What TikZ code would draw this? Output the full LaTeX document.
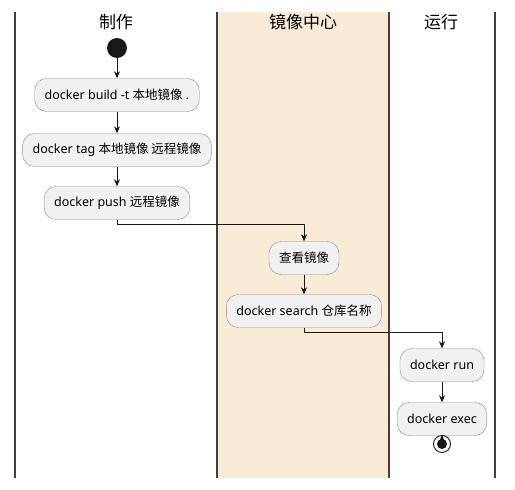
\documentclass[tikz,border=0pt]{standalone}
\usepackage{fontspec}
\setmainfont{Noto Sans}
\newfontfamily\cjk{Noto Sans CJK SC}
\usetikzlibrary{arrows.meta}
\definecolor{laneBg}{HTML}{FAEBD7}
\definecolor{actFill}{HTML}{F1F1F1}
\definecolor{lineCol}{HTML}{181818}

\begin{document}
\begin{tikzpicture}[x=1pt, y=-1pt, line join=round, >={Stealth[length=7pt,width=6pt]},
  act/.style={draw=black!45, fill=actFill, rounded corners=12pt, minimum height=33pt,
    inner xsep=10pt, font=\fontsize{12.5}{14}\selectfont},
  flow/.style={->, draw=lineCol, line width=0.9pt},
  lane/.style={line width=2pt, draw=black!75},
  title/.style={font=\cjk\fontsize{17}{19}\selectfont}]
  \useasboundingbox (0,0) rectangle (515,490);
  % swimlanes
  \fill[laneBg] (217,12) rectangle (389,478);
  \foreach \x in {15,217,389,495}
    \draw[lane] (\x,12) -- (\x,478);
  \node[title] (makeT) at (116,22) {制作};
  \node[title] (hubT) at (303,22) {镜像中心};
  \node[title] (runT) at (441,22) {运行};
  % activities
  \node[circle, fill=lineCol, minimum size=20pt, inner sep=0pt] (start) at (117,48) {};
  \node[act] (build) at (117,95) {docker build -t {\cjk 本地镜像} .};
  \node[act] (tag) at (117,150) {docker tag {\cjk 本地镜像 远程镜像}};
  \node[act] (push) at (117,203) {docker push {\cjk 远程镜像}};
  \node[act] (look) at (304,258) {\cjk 查看镜像};
  \node[act] (search) at (304,311) {docker search {\cjk 仓库名称}};
  \node[act] (run) at (442,365) {docker run};
  \node[act] (exec) at (442,419) {docker exec};
  \node[circle, draw=lineCol, line width=0.9pt, minimum size=17pt, inner sep=0pt] (stop) at (442,444) {};
  \fill[lineCol] (stop.center) circle (5pt);
  % flows
  \draw[flow] (start) -- (build);
  \draw[flow] (build) -- (tag);
  \draw[flow] (tag) -- (push);
  \draw[flow] (push.south) -- ++(0,5) -| (look.north);
  \draw[flow] (look) -- (search);
  \draw[flow] (search.south) -- ++(0,5) -| (run.north);
  \draw[flow] (run) -- (exec);
  \draw[flow] (exec) -- (stop);
\end{tikzpicture}
\end{document}
